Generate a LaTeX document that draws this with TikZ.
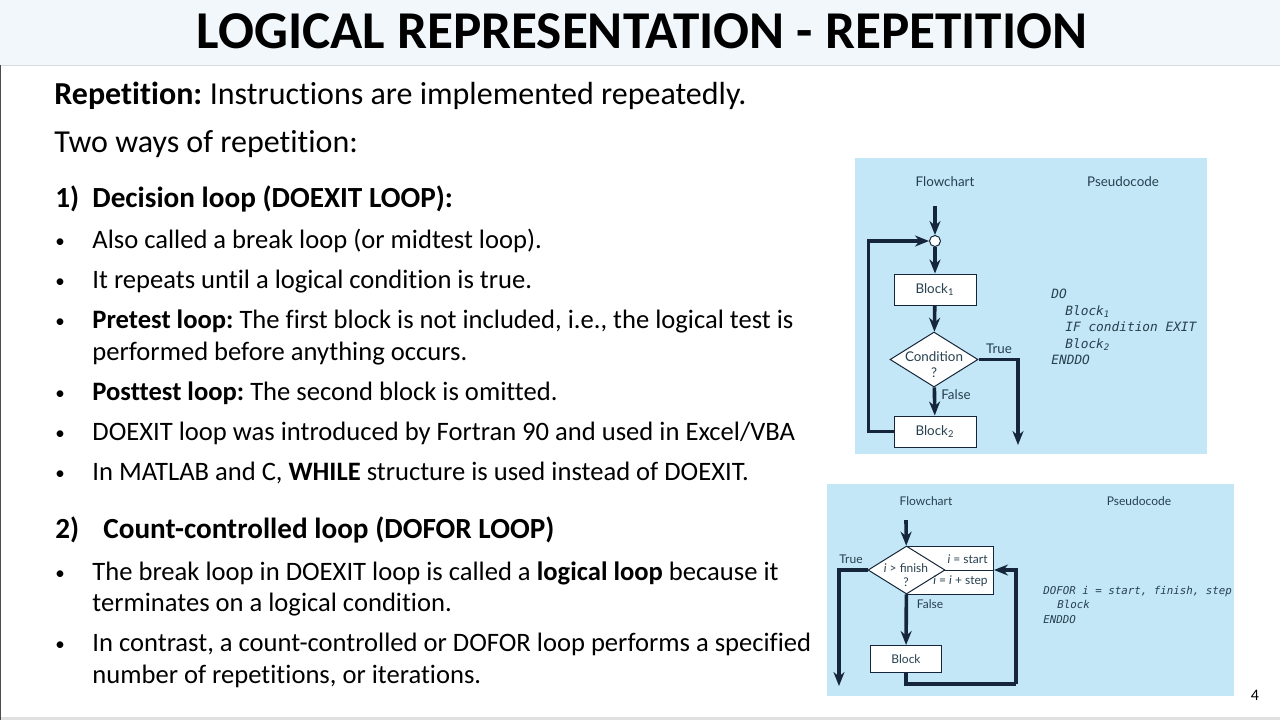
\documentclass[tikz,border=0pt]{standalone}
\usepackage{fontspec}
\setmainfont[Ligatures=NoCommon]{Carlito}
\newfontfamily\panelfont{Lato}
\newfontfamily\codefont{DejaVu Sans Mono}
\usetikzlibrary{arrows.meta, calc, positioning, shapes.geometric}
\definecolor{panelblue}{HTML}{C3E7F6}
\definecolor{headblue}{HTML}{F1F7FB}
\definecolor{flowdark}{HTML}{15263A}
\definecolor{paneltext}{HTML}{27404F}
\tikzset{
    title/.style={font=\fontsize{26.6}{30}\selectfont\bfseries, text=black},
    big/.style={anchor=base west, inner sep=0, font=\fontsize{16}{18}\selectfont, text=black},
    head/.style={anchor=base west, inner sep=0, font=\fontsize{14.6}{17}\selectfont\bfseries, text=black},
    item/.style={anchor=base west, inner sep=0, font=\fontsize{13.3}{16}\selectfont, text=black},
    dot/.style={item, font=\fontsize{9.5}{12}\selectfont},
    label/.style={font=\panelfont\fontsize{6.7}{8}\selectfont, text=paneltext, inner sep=0},
    labelb/.style={label, font=\panelfont\fontsize{6}{7}\selectfont},
    code/.style={anchor=base west, inner sep=0, font=\codefont\itshape\fontsize{6.4}{7}\selectfont, text=paneltext},
    codeb/.style={code, font=\codefont\itshape\fontsize{5.4}{7}\selectfont},
    block/.style={draw=flowdark, fill=white, line width=0.5pt, minimum height=15.5pt, inner sep=0, label},
    cond/.style={diamond, draw=flowdark, fill=white, line width=0.5pt, aspect=1.6, inner sep=0},
    flow/.style={draw=flowdark, line width=1.8pt},
    flowarrow/.style={flow, -{Stealth[length=7pt, width=5.5pt]}}
}
\begin{document}
\begin{tikzpicture}[x=0.5pt, y=-0.5pt]
    \useasboundingbox (0, 0) rectangle (1280, 720);
    \fill [white] (0, 0) rectangle (1280, 720);
    \fill [headblue] (0, 0) rectangle (1280, 65);
    \draw [black!15] (0, 65) -- (1280, 65);
    \fill [black!12] (0, 717) rectangle (1280, 720);
    \draw [black!70, line width=0.5pt] (0.5, 65) -- (0.5, 720);
    \node [title] (Title) at (642, 31) {LOGICAL REPRESENTATION - REPETITION};

    % left column
    \node [big] (Rep) at (54, 104) {\textbf{Repetition:}\hspace{-1pt} Instructions are implemented repeatedly.};
    \node [big] (Two) at (54, 152) {Two ways of repetition:};

    \node [head] (Ha) at (55, 207) {1)};
    \node [head] (Hb) at (92, 207) {Decision loop (DOEXIT LOOP):};
    \node [dot] (Ba) at (55, 247) {•};
    \node [item] (La) at (92, 248) {Also called a break loop (or midtest loop).};
    \node [dot] (Bb) at (55, 287) {•};
    \node [item] (Lb) at (92, 288) {It repeats until a logical condition is true.};
    \node [dot] (Bc) at (55, 327) {•};
    \node [item] (Lc) at (92, 328) {\textbf{Pretest loop:}\hspace{-1pt} The first block is not included, i.e., the logical test is};
    \node [item] (Ld) at (92, 360) {performed before anything occurs.};
    \node [dot] (Be) at (55, 399) {•};
    \node [item] (Le) at (92, 400) {\textbf{Posttest loop:}\hspace{-1pt} The second block is omitted.};
    \node [dot] (Bf) at (55, 439) {•};
    \node [item] (Lf) at (92, 440) {DOEXIT loop was introduced by Fortran 90 and used in Excel/VBA};
    \node [dot] (Bg) at (55, 479) {•};
    \node [item] (Lg) at (92, 480) {In MATLAB and C, \textbf{WHILE} structure is used instead of DOEXIT.};

    \node [head] (Hc) at (55, 538) {2)};
    \node [head] (Hd) at (103, 538) {Count-controlled loop (DOFOR LOOP)};
    \node [dot] (Bh) at (55, 579) {•};
    \node [item] (Lh) at (92, 580) {The break loop in DOEXIT loop is called a \textbf{logical loop} because it};
    \node [item] (Li) at (92, 611) {terminates on a logical condition.};
    \node [dot] (Bj) at (55, 650) {•};
    \node [item] (Lj) at (92, 651) {In contrast, a count-controlled or DOFOR loop performs a specified};
    \node [item] (Lk) at (92, 683) {number of repetitions, or iterations.};
    \node [anchor=base, inner sep=0, font=\fontsize{8}{10}\selectfont] (Page) at (1255, 700) {4};

    % upper panel
    \fill [panelblue] (855, 158) rectangle (1207, 454);
    \node [label] (Fa) at (945, 182) {Flowchart};
    \node [label] (Pa) at (1123, 182) {Pseudocode};
    \coordinate (Sa) at (935, 206);
    \node [circle, draw=flowdark, fill=white, line width=0.5pt, minimum size=5.5pt, inner sep=0] (Ja) at (935, 241) {};
    \node [block, minimum width=41pt] (Ka) at (935, 289.5) {Block\textsubscript{1}};
    \node [cond, minimum width=44pt, minimum height=27.5pt] (Ca) at (934, 359.5) {};
    \node [label] (Cq) at (934, 357) {Condition};
    \node [label] (Cr) at (934, 373) {?};
    \node [block, minimum width=41pt] (Kb) at (935, 431.5) {Block\textsubscript{2}};
    \coordinate (Ea) at (1018, 445);
    \node [label] (Ta) at (999, 349) {True};
    \node [label] (Fb) at (956, 395) {False};
    \draw [flowarrow] (Sa) -- (Ja);
    \draw [flowarrow] (Ja) -- (Ka);
    \draw [flowarrow] (Ka) -- (Ca);
    \draw [flowarrow] (Ca) -- (Kb);
    \draw [flowarrow] (Ca.east) -| (Ea);
    \draw [flowarrow] (Kb.west) -- ++(-25, 0) |- (Ja.west);
    \node [code] (Da) at (1051, 298) {DO};
    \node [code] (Db) at (1065, 315) {Block\textsubscript{1}};
    \node [code] (Dc) at (1065, 331) {IF condition EXIT};
    \node [code] (Dd) at (1065, 348) {Block\textsubscript{2}};
    \node [code] (De) at (1051, 364) {ENDDO};

    % lower panel
    \fill [panelblue] (827, 484) rectangle (1234, 696);
    \node [labelb] (Fc) at (926, 501) {Flowchart};
    \node [labelb] (Pc) at (1139, 501) {Pseudocode};
    \coordinate (Sb) at (906, 520);
    \node [draw=flowdark, fill=white, line width=0.5pt, minimum width=43.5pt, minimum height=24pt, anchor=west, inner sep=0] (Ra) at (906, 570) {};
    \draw [flowdark, line width=0.5pt] (Ra.west) -- (Ra.east);
    \node [cond, minimum width=38.5pt, minimum height=24pt] (Cb) at (906.5, 570) {};
    \node [labelb, anchor=east] (Ia) at (988, 559) {\textit{i} = start};
    \node [labelb, anchor=east] (Ib) at (988, 581) {\textit{i} = \textit{i} + step};
    \node [labelb] (Cs) at (906, 568) {\textit{i} > finish};
    \node [labelb] (Ct) at (906, 582) {?};
    \node [block, labelb, minimum width=35.5pt, minimum height=13.5pt] (Kc) at (906, 659) {Block};
    \node [labelb] (Tb) at (851, 559) {True};
    \node [labelb] (Fd) at (930, 604) {False};
    \coordinate (Eb) at (839, 686);
    \coordinate (Ub) at (1016, 684);
    \draw [flowarrow] (Sb) -- (Cb);
    \draw [flowarrow] (Cb) -- (Kc);
    \draw [flowarrow] (Cb.west) -| (Eb);
    \draw [flow] (Kc.south) |- (Ub);
    \draw [flowarrow] (Ub) |- (Ra.east);
    \node [codeb] (Ga) at (1043, 594) {DOFOR i = start, finish, step};
    \node [codeb] (Gb) at (1057, 608) {Block};
    \node [codeb] (Gc) at (1043, 623) {ENDDO};
\end{tikzpicture}
\end{document}
